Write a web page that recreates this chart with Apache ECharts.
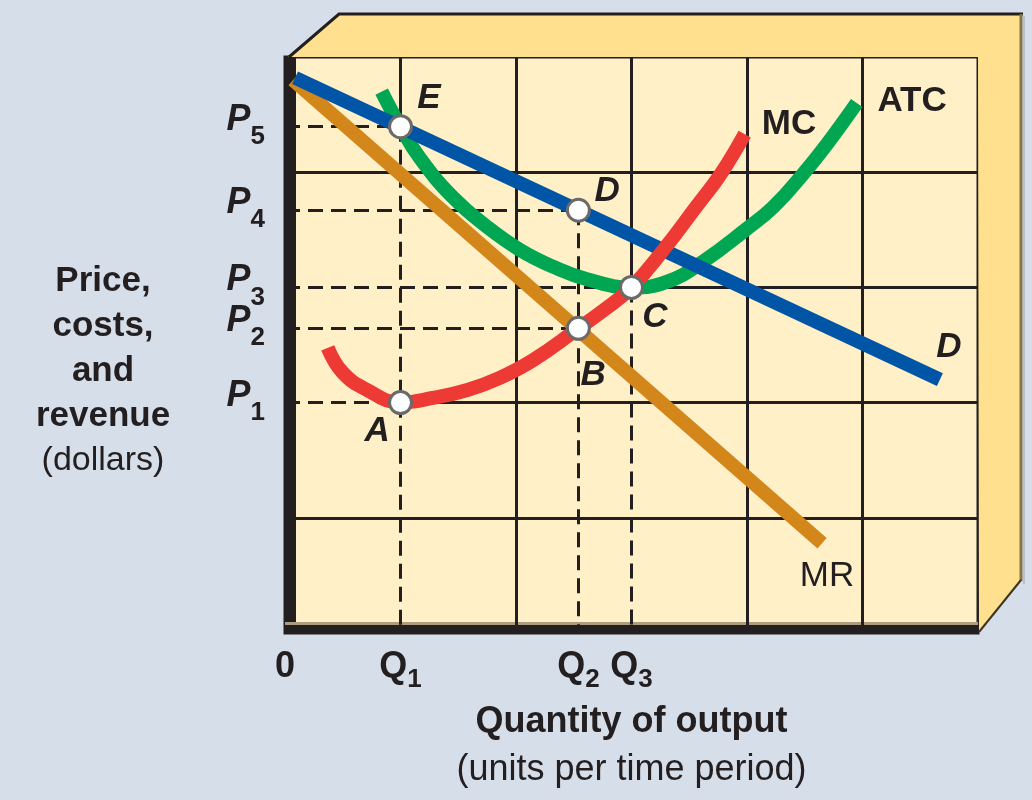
<!DOCTYPE html>
<html><head><meta charset="utf-8">
<script src="https://cdn.jsdelivr.net/npm/echarts@6/dist/echarts.min.js"></script>
<style>html,body{margin:0;padding:0;background:#d6dee9;}#c{width:1032px;height:800px;}</style>
</head><body><div id="c"></div>
<script>
// ---------------- data ----------------
const qTickValues = [0, 1, 2.54, 3];
const qTickLabels = ['0', 'Q|1', 'Q|2', 'Q|3'];
const pTickValues = [2.0, 2.645, 3.0, 3.67, 4.395];
const pTickLabels = ['P|1', 'P|2', 'P|3', 'P|4', 'P|5'];

const demandLine = [[0.087, 4.82], [5.67, 2.20]];
const mrLine = [[0.07, 4.80], [4.65, 0.78]];
const mcCurve = [[0.37, 2.475], [0.50, 2.26], [0.71, 2.11], [1.0, 2.0], [1.28, 2.04], [1.58, 2.11],
  [1.86, 2.215], [2.15, 2.37], [2.54, 2.645], [2.77, 2.81], [3.0, 3.0], [3.28, 3.33],
  [3.56, 3.70], [3.77, 3.98], [3.98, 4.33]];
const atcCurve = [[0.837, 4.70], [1.0, 4.395], [1.17, 4.12], [1.455, 3.781], [1.75, 3.525], [2.035, 3.325],
  [2.32, 3.18], [2.615, 3.07], [3.0, 3.0], [3.31, 3.05], [3.62, 3.224], [4.0, 3.51],
  [4.23, 3.70], [4.49, 3.99], [4.69, 4.24], [4.95, 4.60]];

const pointNames = ['E', 'D', 'C', 'B', 'A'];
const pointValues = [[1.0, 4.395], [2.54, 3.67], [3.0, 3.0], [2.54, 2.645], [1.0, 2.0]];

const gridXs = [1, 2, 3, 4, 5];
const gridYs = [1, 2, 3, 4];

const annoTexts = ['E', 'D', 'C', 'B', 'A', 'D', 'MC', 'ATC', 'MR'];
const annoValues = [[1.247, 4.644], [2.788, 3.837], [3.203, 2.743], [2.667, 2.240], [0.797, 1.753],
  [5.749, 2.483], [4.364, 4.418], [5.429, 4.618], [4.693, 0.495]];
const annoKinds = ['pt', 'pt', 'pt', 'pt', 'pt', 'pt', 'curveBold', 'curveBold', 'curve'];

// ---------------- build ----------------
const F = 'Liberation Sans, Arial, Helvetica, sans-serif';
const INK = '#231f20';
const X_MAX = 6, Y_MAX = 5;
const eps = 1e-6;

const gridSegs = [];
gridXs.forEach(x => {
  let top = 0;
  pointValues.forEach(p => { if (Math.abs(p[0] - x) < eps) top = Math.max(top, p[1]); });
  gridSegs.push({ coords: [[x, top], [x, Y_MAX]] });
});
gridYs.forEach(y => {
  let right = 0;
  pointValues.forEach(p => { if (Math.abs(p[1] - y) < eps) right = Math.max(right, p[0]); });
  gridSegs.push({ coords: [[right, y], [X_MAX, y]] });
});
const guideSegs = [];
const doneQ = [];
pointValues.forEach(p => { guideSegs.push({ coords: [[0, p[1]], [p[0], p[1]]] }); });
pointValues.slice().sort((a, b) => b[1] - a[1]).forEach(p => {
  if (doneQ.some(q => Math.abs(q - p[0]) < eps)) return;
  doneQ.push(p[0]);
  guideSegs.push({ coords: [[p[0], p[1]], [p[0], 0]] });
});

function findLabel(vals, labs, v) {
  for (let i = 0; i < vals.length; i++) if (Math.abs(vals[i] - v) < 1e-6) return labs[i];
  return '';
}
function sub(lab, big) {
  if (lab.indexOf('|') < 0) return '{z|' + lab + '}';
  const parts = lab.split('|');
  return '{' + big + '|' + parts[0] + '}{s|' + parts[1] + '}';
}

const annoStyles = {
  pt: { fontFamily: F, fontSize: 35, fontStyle: 'italic', fontWeight: 'bold', color: INK },
  curveBold: { fontFamily: F, fontSize: 35, fontWeight: 'bold', color: INK },
  curve: { fontFamily: F, fontSize: 35, fontWeight: 'normal', color: INK }
};

const chart = echarts.init(document.getElementById('c'));
chart.setOption({
  backgroundColor: '#d6dee9',
  animation: false,
  graphic: [
    { type: 'polygon', z: 0, silent: true,
      shape: { points: [[288, 57], [339, 13], [1022, 13], [1022, 580], [979, 633], [978, 57]] },
      style: { fill: '#fee08f' } },
    { type: 'polyline', z: 1, silent: true,
      shape: { points: [[289, 57], [339, 14], [1023, 14]] },
      style: { stroke: INK, lineWidth: 3, fill: null } },
    { type: 'line', z: 1, silent: true, shape: { x1: 1021, y1: 14, x2: 1021, y2: 581 },
      style: { stroke: '#85734f', lineWidth: 3 } },
    { type: 'line', z: 1, silent: true, shape: { x1: 1024, y1: 16, x2: 1024, y2: 584 },
      style: { stroke: '#bcc1c9', lineWidth: 2 } },
    { type: 'line', z: 1, silent: true, shape: { x1: 1021, y1: 580, x2: 979, y2: 632 },
      style: { stroke: '#3d3424', lineWidth: 2 } }
  ],
  grid: { left: 285, top: 57, width: 693, height: 576, show: true,
    backgroundColor: '#fff0c8', borderColor: INK, borderWidth: 3 },
  xAxis: {
    type: 'value', min: 0, max: X_MAX, interval: 1, offset: -4,
    axisLine: { show: true, onZero: false, lineStyle: { color: INK, width: 9, cap: 'butt',
      shadowColor: '#ab9d7d', shadowOffsetY: -3, shadowBlur: 0 } },
    axisTick: { show: false }, splitLine: { show: false },
    axisLabel: {
      customValues: qTickValues, margin: 20,
      formatter: v => sub(findLabel(qTickValues, qTickLabels, v), 'q'),
      rich: {
        q: { fontFamily: F, fontSize: 36, fontWeight: 'bold', color: INK, lineHeight: 36, verticalAlign: 'top' },
        z: { fontFamily: F, fontSize: 36, fontWeight: 'bold', color: INK, lineHeight: 36, verticalAlign: 'top' },
        s: { fontFamily: F, fontSize: 26, fontWeight: 'bold', color: INK, lineHeight: 44, verticalAlign: 'bottom' }
      }
    },
    name: '{b|Quantity of output}\n{r|(units per time period)}',
    nameLocation: 'middle', nameGap: 69,
    nameTextStyle: { align: 'center', rich: {
      b: { fontFamily: F, fontSize: 36, fontWeight: 'bold', color: INK, lineHeight: 48, align: 'center' },
      r: { fontFamily: F, fontSize: 36, fontWeight: 'normal', color: INK, lineHeight: 48, align: 'center' }
    } }
  },
  yAxis: {
    type: 'value', min: 0, max: Y_MAX, interval: 1, offset: -5,
    axisLine: { show: true, onZero: false, lineStyle: { color: INK, width: 12, cap: 'butt' } },
    axisTick: { show: false }, splitLine: { show: false },
    axisLabel: {
      customValues: pTickValues, margin: 25, padding: [0, 0, 2, 0],
      formatter: v => sub(findLabel(pTickValues, pTickLabels, v), 'p'),
      rich: {
        p: { fontFamily: F, fontSize: 36, fontWeight: 'bold', fontStyle: 'italic', color: INK, lineHeight: 36, verticalAlign: 'top' },
        s: { fontFamily: F, fontSize: 26, fontWeight: 'bold', color: INK, lineHeight: 48, verticalAlign: 'bottom' }
      }
    },
    name: '{b|Price,}\n{b|costs,}\n{b|and}\n{b|revenue}\n{r|(dollars)}',
    nameLocation: 'middle', nameRotate: 0, nameGap: 187,
    nameTextStyle: { align: 'center', verticalAlign: 'middle', padding: [52, 0, 0, 0], rich: {
      b: { fontFamily: F, fontSize: 35, fontWeight: 'bold', color: INK, lineHeight: 45, align: 'center' },
      r: { fontFamily: F, fontSize: 34, fontWeight: 'normal', color: INK, lineHeight: 45, align: 'center' }
    } }
  },
  series: [
    { type: 'lines', coordinateSystem: 'cartesian2d', z: 1, silent: true, data: gridSegs,
      lineStyle: { color: INK, width: 3, opacity: 1 } },
    { type: 'lines', coordinateSystem: 'cartesian2d', z: 2, silent: true, data: guideSegs,
      lineStyle: { color: INK, width: 3, opacity: 1, type: [15, 8] } },
    { name: 'ATC', type: 'line', z: 3, data: atcCurve, smooth: 0.45, showSymbol: false, symbol: 'none',
      lineStyle: { color: '#00a651', width: 14 } },
    { name: 'MR', type: 'line', z: 4, data: mrLine, showSymbol: false, symbol: 'none',
      lineStyle: { color: '#d3871a', width: 14 } },
    { name: 'D', type: 'line', z: 5, data: demandLine, showSymbol: false, symbol: 'none',
      lineStyle: { color: '#0055a6', width: 14 } },
    { name: 'MC', type: 'line', z: 6, data: mcCurve, smooth: 0.45, showSymbol: false, symbol: 'none',
      lineStyle: { color: '#ee3a34', width: 14 } },
    { type: 'scatter', z: 10, symbol: 'circle', symbolSize: 22, silent: true,
      data: pointValues.map((v, i) => ({ name: pointNames[i], value: v })),
      itemStyle: { color: '#ffffff', borderColor: '#6a6a6a', borderWidth: 3, opacity: 1 } },
    { type: 'scatter', z: 11, symbolSize: 1, silent: true,
      itemStyle: { color: 'rgba(0,0,0,0)', opacity: 1 },
      data: annoValues.map((v, i) => ({ name: annoTexts[i], value: v,
        label: Object.assign({ show: true, position: 'inside', formatter: '{b}', opacity: 1 }, annoStyles[annoKinds[i]]) })) }
  ]
});
</script></body></html>
